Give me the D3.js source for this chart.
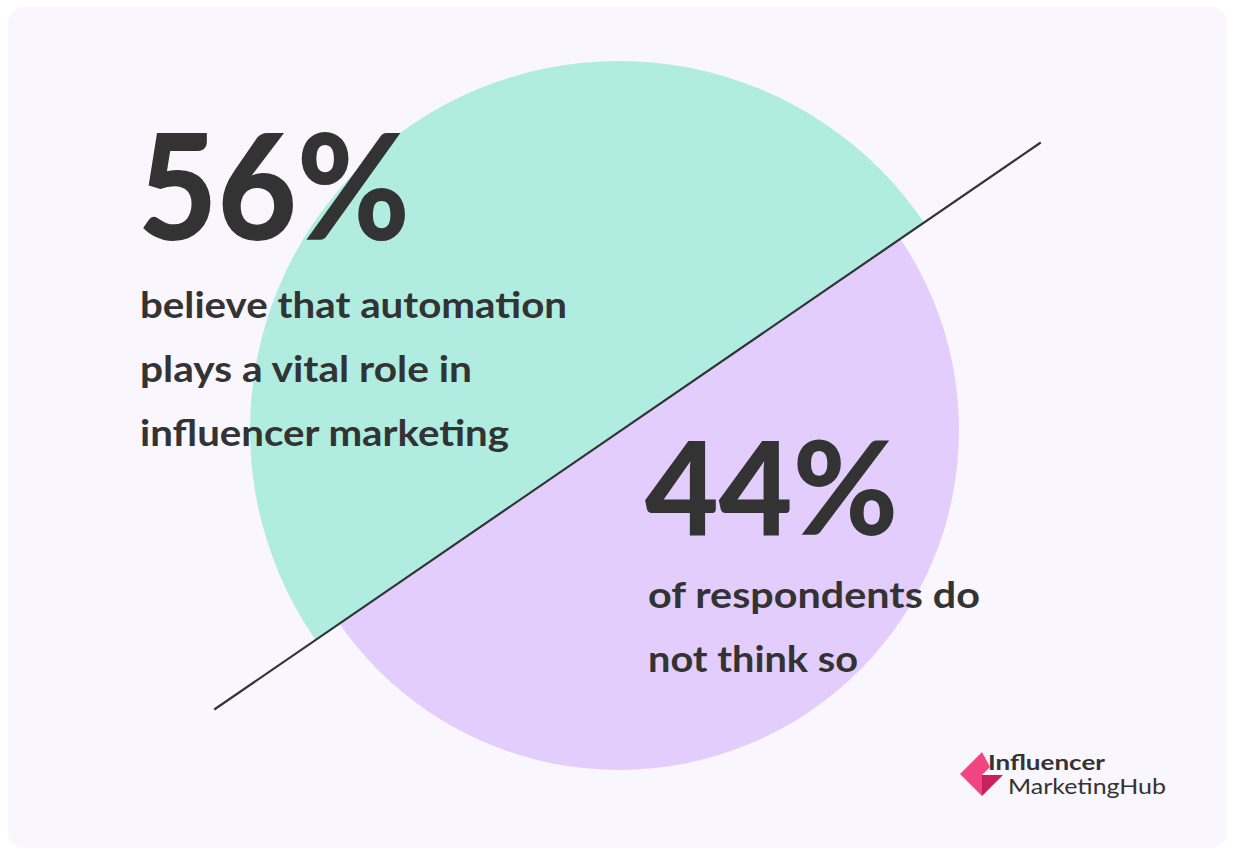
<!DOCTYPE html>
<html lang="en">
<head>
<meta charset="UTF-8">
<script src="https://d3js.org/d3.v7.min.js"></script>
<style>
  body { margin: 0; background: #ffffff; }
  svg { display: block; }
  text { font-family: Lato, "Open Sans", sans-serif; fill: #333333; }
</style>
</head>
<body>
<div id="chart"></div>
<script>
// data
const answers = ["yes", "no"];
const shares = [56, 44];
const shareLabels = ["56%", "44%"];
const captions = [
  ["believe that automation", "plays a vital role in", "influencer marketing"],
  ["of respondents do", "not think so"]
];

const width = 1235, height = 855;
const colors = ["#b0ede0", "#e2cdfd"];
const cx = 619, cy = 430;

// split line (bottom-left end and top-right end)
const lineA = [215, 709], lineB = [1040, 143];
const slope = (lineB[1] - lineA[1]) / (lineB[0] - lineA[0]);
const yAt = x => lineA[1] + slope * (x - lineA[0]);

const rScale = d3.scaleLinear().domain(d3.extent(shares)).range([340, 369]);

const svg = d3.select("#chart").append("svg")
  .attr("width", width).attr("height", height);

svg.append("rect")
  .attr("x", 8).attr("y", 7)
  .attr("width", 1219).attr("height", 841)
  .attr("rx", 16)
  .attr("fill", "#faf6fe");

const defs = svg.append("defs");
const x0 = -500, x1 = 1800;
const halves = [
  [[x0, yAt(x0)], [x1, yAt(x1)], [x1, -2000], [x0, -2000]],
  [[x0, yAt(x0)], [x1, yAt(x1)], [x1, 3000], [x0, 3000]]
];
answers.forEach((a, i) => {
  defs.append("clipPath").attr("id", "clip-" + a)
    .append("path").attr("d", "M" + halves[i].join("L") + "Z");
});

svg.selectAll("circle.part")
  .data(shares)
  .join("circle")
  .attr("class", "part")
  .attr("cx", cx).attr("cy", cy)
  .attr("r", d => rScale(d))
  .attr("fill", (d, i) => colors[i])
  .attr("clip-path", (d, i) => "url(#clip-" + answers[i] + ")");

svg.append("line")
  .attr("x1", lineA[0]).attr("y1", lineA[1])
  .attr("x2", lineB[0]).attr("y2", lineB[1])
  .attr("stroke", "#333333")
  .attr("stroke-width", 2.2)
  .attr("stroke-linecap", "round");

// text layout
const layout = [
  { x: 138, y: 240, size: 146, w: 272, capX: 140, capY: 318, capW: [427, 332, 369] },
  { x: 645, y: 535, size: 130, w: 253, capX: 648, capY: 608, capW: [332, 210] }
];

function fit(sel, target) {
  const n = sel.node().getComputedTextLength();
  if (Math.abs(n - target) > 1) {
    sel.attr("textLength", target).attr("lengthAdjust", "spacingAndGlyphs");
  }
}

shareLabels.forEach((lab, i) => {
  const L = layout[i];
  const t = svg.append("text")
    .attr("x", L.x).attr("y", L.y)
    .attr("font-size", L.size)
    .attr("font-weight", 900)
    .text(lab);
  fit(t, L.w);
  captions[i].forEach((line, j) => {
    const c = svg.append("text")
      .attr("x", L.capX).attr("y", L.capY + j * 64)
      .attr("font-size", 37)
      .attr("font-weight", 700)
      .text(line);
    fit(c, L.capW[j]);
  });
});

// logo
const logo = svg.append("g");
logo.append("path")
  .attr("d", "M982,752 L960,774 L982,796 L982,775 L990,767 Z")
  .attr("fill", "#f0457e");
logo.append("path")
  .attr("d", "M982,775 L1003,775 L982,796 Z")
  .attr("fill", "#c8225c");
const t1 = logo.append("text")
  .attr("x", 988).attr("y", 770)
  .attr("font-size", 21).attr("font-weight", 700)
  .text("Influencer");
fit(t1, 117);
const t2 = logo.append("text")
  .attr("x", 1008).attr("y", 794)
  .attr("font-size", 21).attr("font-weight", 400)
  .text("MarketingHub");
fit(t2, 158);
</script>
</body>
</html>
